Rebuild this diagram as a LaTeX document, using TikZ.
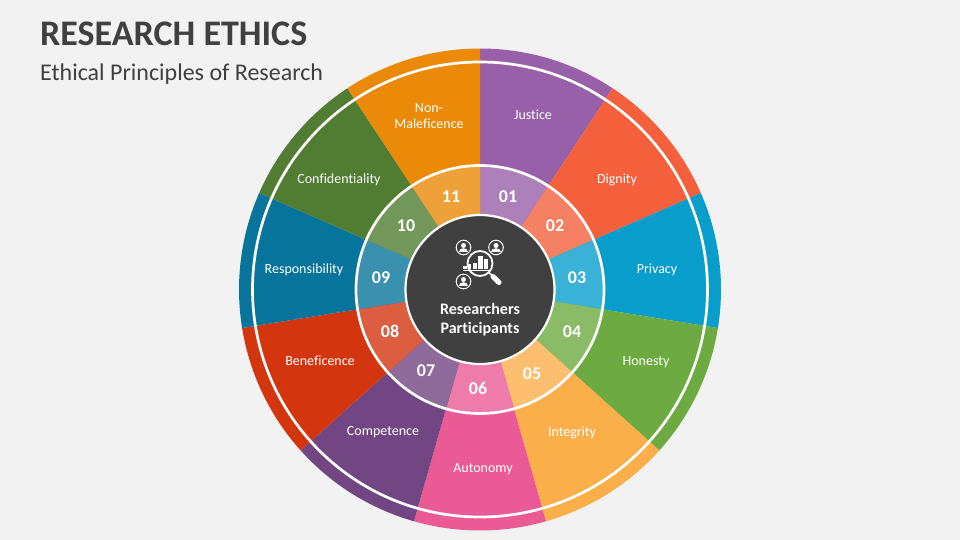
\documentclass[tikz,border=0pt]{standalone}
\usepackage{fontspec}
\usetikzlibrary{calc}
\setmainfont[Ligatures=NoCommon]{Carlito}
\definecolor{bgc}{HTML}{F2F2F2}
\definecolor{darkc}{HTML}{404040}
\definecolor{c1}{HTML}{9860A8}
\definecolor{c2}{HTML}{F4603C}
\definecolor{c3}{HTML}{099DCC}
\definecolor{c4}{HTML}{6DAB42}
\definecolor{c5}{HTML}{FBAF4B}
\definecolor{c6}{HTML}{EA5A94}
\definecolor{c7}{HTML}{714682}
\definecolor{c8}{HTML}{D3350F}
\definecolor{c9}{HTML}{07759B}
\definecolor{c10}{HTML}{507D32}
\definecolor{c11}{HTML}{EB8A08}
\tikzset{
  lab/.style={text=white,font=\fontsize{14}{16.5}\selectfont,align=center,inner sep=0pt},
  num/.style={text=white,font=\fontsize{18}{20}\selectfont\bfseries,inner sep=0pt},
  ringline/.style={draw=white,line width=2.7pt},
  icon/.style={draw=white,line width=1pt}
}
\begin{document}
\begin{tikzpicture}[x=1pt,y=-1pt]
\useasboundingbox (0,0) rectangle (960,540);
\fill[bgc] (0,0) rectangle (960,540);
\coordinate (C) at (480,289.5);
% wedges: start and end measured clockwise from the top
\foreach \i/\s/\e in {1/0/33.4,2/33.4/66.4,3/66.4/99.2,4/99.2/131.9,5/131.9/164.1,6/164.1/195.9,7/195.9/228.1,8/228.1/260.8,9/260.8/293.6,10/293.6/326.6,11/326.6/360}{
  \pgfmathsetmacro{\sa}{-90+\s}
  \pgfmathsetmacro{\ea}{-90+\e}
  \fill[c\i] (C) -- ($(C)+(\sa:241)$) arc[start angle=\sa,end angle=\ea,radius=241] -- cycle;
  \fill[c\i!80!white] (C) -- ($(C)+(\sa:124)$) arc[start angle=\sa,end angle=\ea,radius=124] -- cycle;
}
\draw[ringline] (C) circle[radius=227.5];
\draw[ringline] (C) circle[radius=124];
\fill[darkc,draw=white,line width=2.2pt] (C) circle[radius=74.5];
% labels
\node[lab] (l1) at (533,115) {Justice};
\node[lab] (l2) at (617,180) {Dignity};
\node[lab] (l3) at (657,270) {Privacy};
\node[lab] (l4) at (646,362) {Honesty};
\node[lab] (l5) at (572,433) {Integrity};
\node[lab] (l6) at (483,469) {Autonomy};
\node[lab] (l7) at (383,432) {Competence};
\node[lab] (l8) at (320,361) {Beneficence};
\node[lab] (l9) at (304,270) {Responsibility};
\node[lab] (l10) at (339,180) {Confidentiality};
\node[lab] (l11) at (429,116) {Non-\\Maleficence};
% numbers
\node[num] (n1) at (508,197) {01};
\node[num] (n2) at (555,226) {02};
\node[num] (n3) at (577,278) {03};
\node[num] (n4) at (572,332) {04};
\node[num] (n5) at (532,374) {05};
\node[num] (n6) at (478,388) {06};
\node[num] (n7) at (426,371) {07};
\node[num] (n8) at (390,331) {08};
\node[num] (n9) at (381,278) {09};
\node[num] (n10) at (406,226) {10};
\node[num] (n11) at (451,197) {11};
% centre text
\node[text=white,font=\fontsize{16}{19}\selectfont\bfseries,align=center,inner sep=0pt] (ct) at (480,319.5) {Researchers\\Participants};
% icon: people
\foreach \px/\py in {463.5/247.5,496/247.5,463.5/281.5}{
  \draw[icon] (\px,\py) circle[radius=7.3];
  \fill[white] (\px,\py-2) circle[radius=2.5];
  \fill[white] (\px-4.8,\py+4.5) .. controls (\px-4.8,\py-0.5) and (\px+4.8,\py-0.5) .. (\px+4.8,\py+4.5) -- cycle;
}
% magnifier
\draw[draw=white,line width=1.8pt] (480,263.5) circle[radius=12.5];
\draw[white,line width=1.5pt] (489,272.5) -- (492,275.5);
\draw[white,line width=5pt,line cap=round] (493,276.5) -- (499,282.5);
% bars
\fill[white] (472.5,262.5) rectangle (476.5,269);
\fill[white] (478,256) rectangle (482.5,269);
\fill[white] (484,258.5) rectangle (487.5,269);
\fill[white] (463.3,266) rectangle (467,269);
\fill[white] (467.6,264) rectangle (471.2,269);
\draw[white,line width=0.8pt] (463,270.5) -- (489,270.5);
% title
\node[anchor=west,text=darkc,font=\fontsize{36}{40}\selectfont\bfseries,inner sep=0pt] (title) at (40,33.5) {RESEARCH ETHICS};
\node[anchor=west,text=darkc,font=\fontsize{24}{28}\selectfont,inner sep=0pt] (sub) at (40,74) {Ethical Principles of Research};
\end{tikzpicture}
\end{document}
